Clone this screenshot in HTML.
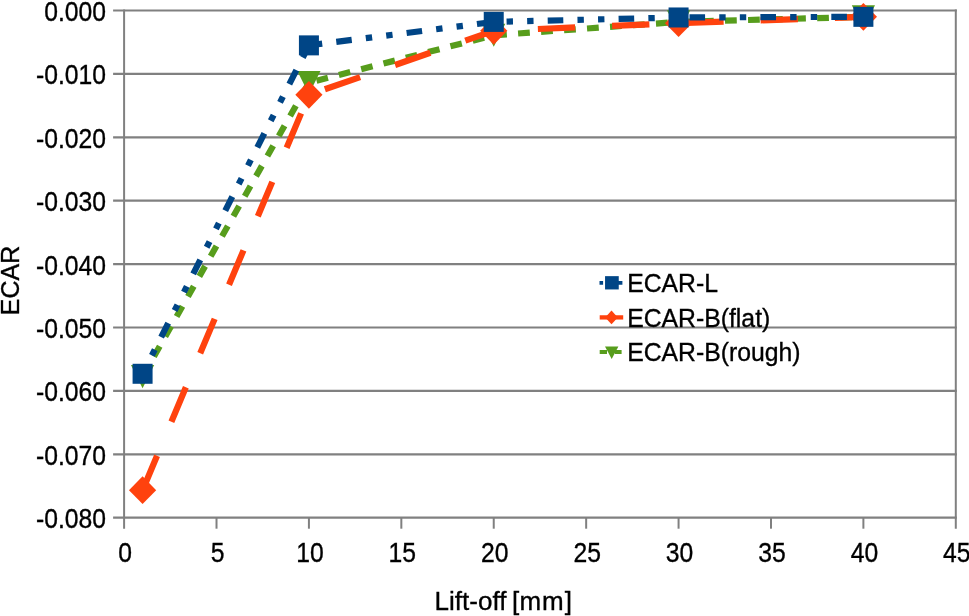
<!DOCTYPE html>
<html><head><meta charset="utf-8"><title>ECAR vs Lift-off</title>
<style>html,body{margin:0;padding:0;background:#fff}body{width:969px;height:616px;overflow:hidden}</style></head>
<body>
<svg width="969" height="616" viewBox="0 0 969 616" style="display:block">
<rect width="969" height="616" fill="#fff"/>
<g stroke="#808080" stroke-width="2.2" fill="none">
<line x1="113.1" y1="10.50" x2="956.8" y2="10.50"/>
<line x1="113.1" y1="73.90" x2="956.8" y2="73.90"/>
<line x1="113.1" y1="137.30" x2="956.8" y2="137.30"/>
<line x1="113.1" y1="200.70" x2="956.8" y2="200.70"/>
<line x1="113.1" y1="264.10" x2="956.8" y2="264.10"/>
<line x1="113.1" y1="327.50" x2="956.8" y2="327.50"/>
<line x1="113.1" y1="390.90" x2="956.8" y2="390.90"/>
<line x1="113.1" y1="454.30" x2="956.8" y2="454.30"/>
<line x1="113.1" y1="517.70" x2="956.8" y2="517.70"/>
</g>
<g stroke="#808080" stroke-width="2" fill="none">
<line x1="124.1" y1="9.5" x2="124.1" y2="528.7"/>
<line x1="955.8" y1="9.5" x2="955.8" y2="528.7"/>
<line x1="216.51" y1="517.7" x2="216.51" y2="528.7"/>
<line x1="308.92" y1="517.7" x2="308.92" y2="528.7"/>
<line x1="401.33" y1="517.7" x2="401.33" y2="528.7"/>
<line x1="493.74" y1="517.7" x2="493.74" y2="528.7"/>
<line x1="586.16" y1="517.7" x2="586.16" y2="528.7"/>
<line x1="678.57" y1="517.7" x2="678.57" y2="528.7"/>
<line x1="770.98" y1="517.7" x2="770.98" y2="528.7"/>
<line x1="863.39" y1="517.7" x2="863.39" y2="528.7"/>
</g>
<g font-family="'Liberation Sans', Arial, sans-serif" fill="#000" stroke="#000">
<text transform="translate(106.00,20.90) scale(0.905,1)" font-size="27.3" text-anchor="end" stroke-width="0.35">0.000</text>
<text transform="translate(106.00,84.30) scale(0.905,1)" font-size="27.3" text-anchor="end" stroke-width="0.35">-0.010</text>
<text transform="translate(106.00,147.70) scale(0.905,1)" font-size="27.3" text-anchor="end" stroke-width="0.35">-0.020</text>
<text transform="translate(106.00,211.10) scale(0.905,1)" font-size="27.3" text-anchor="end" stroke-width="0.35">-0.030</text>
<text transform="translate(106.00,274.50) scale(0.905,1)" font-size="27.3" text-anchor="end" stroke-width="0.35">-0.040</text>
<text transform="translate(106.00,337.90) scale(0.905,1)" font-size="27.3" text-anchor="end" stroke-width="0.35">-0.050</text>
<text transform="translate(106.00,401.30) scale(0.905,1)" font-size="27.3" text-anchor="end" stroke-width="0.35">-0.060</text>
<text transform="translate(106.00,464.70) scale(0.905,1)" font-size="27.3" text-anchor="end" stroke-width="0.35">-0.070</text>
<text transform="translate(106.00,528.10) scale(0.905,1)" font-size="27.3" text-anchor="end" stroke-width="0.35">-0.080</text>
<text transform="translate(125.10,561.60) scale(0.905,1)" font-size="27.3" text-anchor="middle" stroke-width="0.35">0</text>
<text transform="translate(217.51,561.60) scale(0.905,1)" font-size="27.3" text-anchor="middle" stroke-width="0.35">5</text>
<text transform="translate(309.92,561.60) scale(0.905,1)" font-size="27.3" text-anchor="middle" stroke-width="0.35">10</text>
<text transform="translate(402.33,561.60) scale(0.905,1)" font-size="27.3" text-anchor="middle" stroke-width="0.35">15</text>
<text transform="translate(494.74,561.60) scale(0.905,1)" font-size="27.3" text-anchor="middle" stroke-width="0.35">20</text>
<text transform="translate(587.16,561.60) scale(0.905,1)" font-size="27.3" text-anchor="middle" stroke-width="0.35">25</text>
<text transform="translate(679.57,561.60) scale(0.905,1)" font-size="27.3" text-anchor="middle" stroke-width="0.35">30</text>
<text transform="translate(771.98,561.60) scale(0.905,1)" font-size="27.3" text-anchor="middle" stroke-width="0.35">35</text>
<text transform="translate(864.39,561.60) scale(0.905,1)" font-size="27.3" text-anchor="middle" stroke-width="0.35">40</text>
<text transform="translate(956.80,561.60) scale(0.905,1)" font-size="27.3" text-anchor="middle" stroke-width="0.35">45</text>
<text transform="translate(434.60,610.40) scale(1.0,1)" font-size="26" text-anchor="start" stroke-width="0.35">Lift-off<tspan dx="-1.6"> [</tspan><tspan dx="0.3">m</tspan><tspan dx="0.9">m</tspan><tspan dx="0.9">]</tspan></text>
<text transform="translate(18.75,280.50) rotate(-90) scale(1.0,1)" font-size="25" text-anchor="middle" stroke-width="0.35">ECAR</text>
</g>
<polyline points="142.58,376.64 308.92,82.71 493.74,35.23 678.57,21.91 863.39,16.84" fill="none" stroke="#579d1c" stroke-width="6.2" stroke-dasharray="11.77 11.27"/>
<polygon points="130.98,365.04 154.18,365.04 142.58,388.24" fill="#579d1c"/>
<polygon points="297.32,71.11 320.52,71.11 308.92,94.31" fill="#579d1c"/>
<polygon points="482.14,23.63 505.34,23.63 493.74,46.83" fill="#579d1c"/>
<polygon points="666.97,10.31 690.17,10.31 678.57,33.51" fill="#579d1c"/>
<polygon points="851.79,5.24 874.99,5.24 863.39,28.44" fill="#579d1c"/>
<polyline points="142.58,490.18 308.92,94.82 493.74,30.79 678.57,23.18 863.39,16.84" fill="none" stroke="#ff420e" stroke-width="6.2" stroke-dasharray="37.3 37.0"/>
<polygon points="128.98,490.18 142.58,476.28 156.18,490.18 142.58,504.08" fill="#ff420e"/>
<polygon points="295.32,94.82 308.92,80.92 322.52,94.82 308.92,108.72" fill="#ff420e"/>
<polygon points="480.14,30.79 493.74,16.89 507.34,30.79 493.74,44.69" fill="#ff420e"/>
<polygon points="664.97,23.18 678.57,9.28 692.17,23.18 678.57,37.08" fill="#ff420e"/>
<polygon points="849.79,16.84 863.39,2.94 876.99,16.84 863.39,30.74" fill="#ff420e"/>
<polyline points="142.58,373.78 308.92,45.37 493.74,21.91 678.57,17.47 863.39,16.84" fill="none" stroke="#004586" stroke-width="6.2" stroke-dasharray="6.4 14.17 6.4 14.17 15.6 14.17"/>
<rect x="132.58" y="363.78" width="20.00" height="20.00" fill="#004586"/>
<rect x="298.92" y="35.37" width="20.00" height="20.00" fill="#004586"/>
<rect x="483.74" y="11.91" width="20.00" height="20.00" fill="#004586"/>
<rect x="668.57" y="7.47" width="20.00" height="20.00" fill="#004586"/>
<rect x="853.39" y="6.84" width="20.00" height="20.00" fill="#004586"/>
<g font-family="'Liberation Sans', Arial, sans-serif" fill="#000" stroke="#000">
<text transform="translate(627.20,292.25) scale(0.953,1)" font-size="26" text-anchor="start" stroke-width="0.35">ECAR-L</text>
<text transform="translate(627.20,326.85) scale(0.953,1)" font-size="26" text-anchor="start" stroke-width="0.35">ECAR-B(flat)</text>
<text transform="translate(627.20,361.45) scale(0.953,1)" font-size="26" text-anchor="start" stroke-width="0.35">ECAR-B(rough)</text>
</g>
<path d="M599.5,282.8H603.1M615,282.8H622.4" stroke="#004586" stroke-width="3.8" fill="none"/>
<rect x="605.05" y="276.15" width="13.70" height="13.30" fill="#004586"/>
<path d="M599.7,317.4H623.2" stroke="#ff420e" stroke-width="4.3" fill="none"/>
<polygon points="605.20,317.40 611.50,310.60 617.80,317.40 611.50,324.20" fill="#ff420e"/>
<path d="M599.7,352.0H607M615,352.0H621.6" stroke="#579d1c" stroke-width="4" fill="none"/>
<polygon points="605,346.4 618.4,346.4 611.7,358.9" fill="#579d1c"/>
</svg>
</body></html>
